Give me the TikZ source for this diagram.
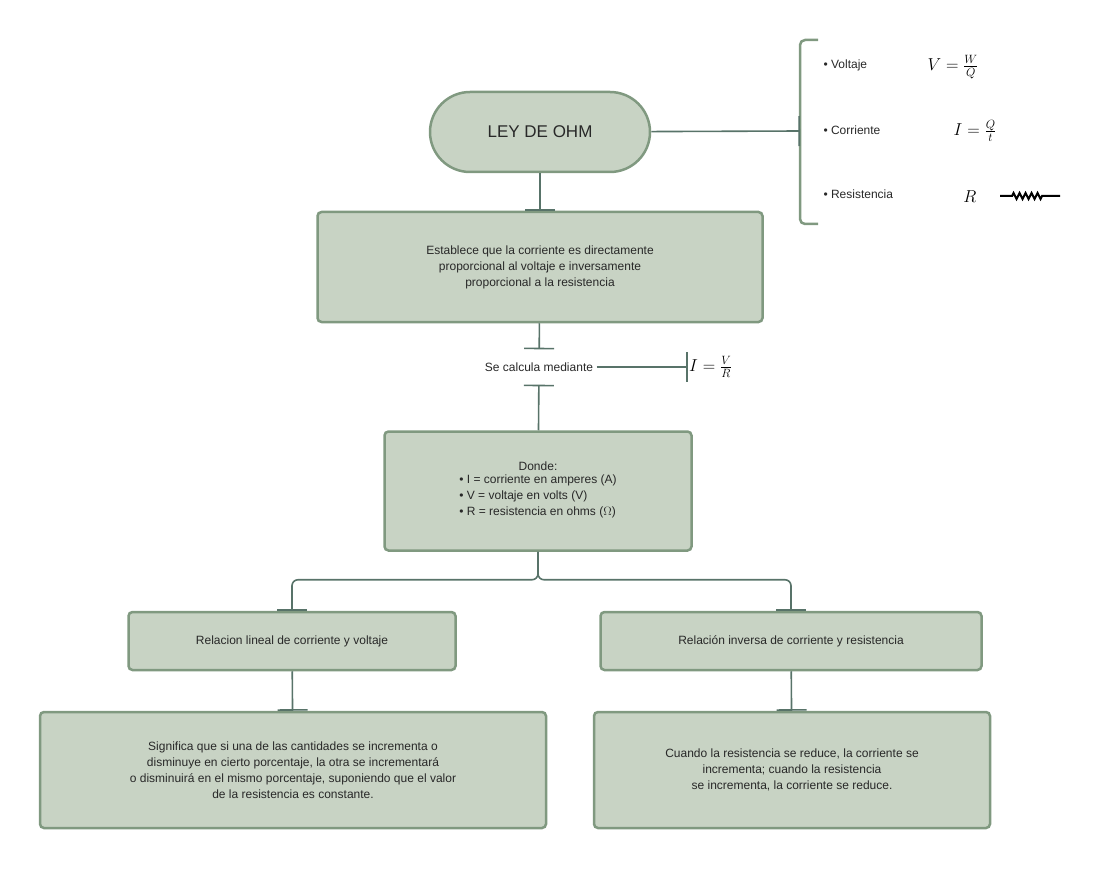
\documentclass[tikz,border=0pt]{standalone}
\usepackage{amsmath}
\usepackage{fontspec}
\setmainfont{Liberation Sans}
\usetikzlibrary{arrows.meta,decorations.pathmorphing}
\definecolor{boxfill}{RGB}{200,211,196}
\definecolor{boxline}{RGB}{128,153,128}
\definecolor{linkcol}{RGB}{88,115,105}
\definecolor{txtcol}{RGB}{40,40,40}
\tikzset{
  box/.style={draw=boxline,fill=boxfill,line width=2.5pt,rounded corners=4pt,
    align=center,text=txtcol,font=\fontsize{12}{16}\selectfont,inner sep=0pt},
  link/.style={draw=linkcol,line width=1.6pt,-{Bar[width=30pt,line width=1.6pt]}},
  item/.style={anchor=west,text=txtcol,font=\fontsize{12}{14}\selectfont}
}
\begin{document}
\begin{tikzpicture}[x=1pt,y=-1pt]
\useasboundingbox (0,0) rectangle (1101,869);
\node[box,rounded corners=40pt,minimum width=220pt,minimum height=80pt,
  font=\fontsize{17}{20}\selectfont](ohm) at (540,132){LEY DE OHM};
\node[box,minimum width=445pt,minimum height=110pt](est) at (540,267)
  {Establece que la corriente es directamente\\proporcional al voltaje e inversamente\\proporcional a la resistencia};
\node[text=txtcol,font=\fontsize{12}{14}\selectfont,minimum height=35pt](calc) at (539,367){Se calcula mediante};
\node[anchor=west,font=\fontsize{17}{20}\selectfont,inner sep=1pt](form) at (688,367){$I=\frac{V}{R}$};
\node[box,minimum width=307pt,minimum height=119pt](donde) at (538,491)
  {Donde:\\[1pt]\makebox[0pt][r]{}\begin{tabular}{@{}l@{}}\textbullet{} I = corriente en amperes (A)\\\textbullet{} V = voltaje en volts (V)\\\textbullet{} R = resistencia en ohms ($\Omega$)\end{tabular}};
\node[box,minimum width=327pt,minimum height=58pt](lineal) at (292,641){Relacion lineal de corriente y voltaje};
\node[box,minimum width=381pt,minimum height=58pt](inversa) at (791,641){Relación inversa de corriente y resistencia};
\node[box,minimum width=506pt,minimum height=116pt](signif) at (293,770)
  {Significa que si una de las cantidades se incrementa o\\disminuye en cierto porcentaje, la otra se incrementará\\o disminuirá en el mismo porcentaje, suponiendo que el valor\\de la resistencia es constante.};
\node[box,minimum width=396pt,minimum height=116pt](cuando) at (792,770)
  {Cuando la resistencia se reduce, la corriente se\\incrementa; cuando la resistencia\\se incrementa, la corriente se reduce.};
% lista de magnitudes
\node[item](volt) at (820,65){\textbullet{} Voltaje};
\node[font=\fontsize{17}{20}\selectfont](fv) at (953,67){$V=\frac{W}{Q}$};
\node[item](corr) at (820,130){\textbullet{} Corriente};
\node[font=\fontsize{17}{20}\selectfont](fi) at (975,131){$I=\frac{Q}{t}$};
\node[item](res) at (820,194){\textbullet{} Resistencia};
\node[font=\fontsize{17}{20}\selectfont](fr) at (970,197){$R$};
\coordinate (ra) at (1000,196);
\coordinate (rb) at (1060,196);
\draw[line width=2pt] (ra) -- ++(12,0) decorate[decoration={zigzag,segment length=6pt,amplitude=3pt}]{-- ++(30,0)} -- (rb);
\coordinate (brace) at (800,131);
\draw[boxline,line width=2.5pt,rounded corners=5pt] (818,40) -- (800,40) -- (800,224) -- (818,224);
% conexiones
\draw[link] (ohm) -- (brace);
\draw[link] (ohm) -- (est);
\draw[link] (est) -- (calc);
\draw[link] (calc) -- (form.west);
\draw[link] (donde) -- (calc);
\draw[link,rounded corners=6pt] (donde.south) -- ++(0,28) -| (lineal.north);
\draw[link,rounded corners=6pt] (donde.south) -- ++(0,28) -| (inversa.north);
\draw[link] (lineal) -- (signif);
\draw[link] (inversa) -- (cuando);
\end{tikzpicture}
\end{document}
